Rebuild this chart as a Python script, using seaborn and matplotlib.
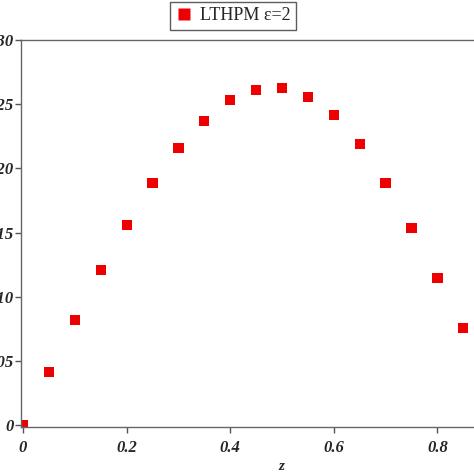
import matplotlib
matplotlib.use("Agg")
import matplotlib.pyplot as plt
import seaborn as sns
import pandas as pd

z = [0.0, 0.05, 0.1, 0.15, 0.2, 0.25, 0.3, 0.35, 0.4, 0.45, 0.5, 0.55, 0.6, 0.65, 0.7, 0.75, 0.8, 0.85]
u = [0.0, 0.0413, 0.0818, 0.1207, 0.1558, 0.1885, 0.2157, 0.2368, 0.2531, 0.2609, 0.2625,
     0.2555, 0.2414, 0.2188, 0.1885, 0.1534, 0.1145, 0.0755]
series_label = "LTHPM \u03b5=2"
x_ticks = [0, 0.2, 0.4, 0.6, 0.8, 1.0]
x_tick_labels = ["0", "0.2", "0.4", "0.6", "0.8", "1"]
y_ticks = [0, 0.05, 0.10, 0.15, 0.20, 0.25, 0.30]
y_tick_labels = ["0", "0.05", "0.10", "0.15", "0.20", "0.25", "0.30"]

df = pd.DataFrame({"z": z, "u": u, "series": series_label})

sns.set_style("white")
plt.rcParams["font.family"] = ["Liberation Serif", "DejaVu Serif"]

fig = plt.figure(figsize=(4.74, 4.74), dpi=100)
# axes run past the right edge of the picture, as in the cropped original
ax = fig.add_axes([21 / 474, 1 - 427 / 474, 520 / 474, 387 / 474])

sns.scatterplot(data=df, x="z", y="u", hue="series", palette=["#ee0000"],
                marker="s", s=55, edgecolor="none", ax=ax, legend=True)

ax.set_xlim(-0.004, 1.0)
ax.set_ylim(-0.0015, 0.30)
ax.set_xticks(x_ticks)
ax.set_xticklabels(x_tick_labels)
ax.set_yticks(y_ticks)
ax.set_yticklabels(y_tick_labels)
for lab in ax.get_xticklabels() + ax.get_yticklabels():
    lab.set_fontweight("bold")
    lab.set_fontstyle("italic")
    lab.set_fontsize(12)
ax.tick_params(axis="both", direction="out", length=4, width=1, color="#555555",
               bottom=True, left=True)
ax.tick_params(axis="y", pad=1.5)
ax.tick_params(axis="x", pad=5)
ax.set_xlabel("z", fontsize=11, fontweight="bold", fontstyle="italic", labelpad=3)
ax.set_ylabel("")
for sp in ax.spines.values():
    sp.set_color("#666666")
    sp.set_linewidth(1.0)

handles, labels = ax.get_legend_handles_labels()
ax.legend(handles, labels, loc="center", bbox_to_anchor=(233 / 474, 1 - 16 / 474),
          bbox_transform=fig.transFigure, frameon=True, fancybox=False,
          edgecolor="#333333", fontsize=13, handletextpad=0.4, borderpad=0.3,
          handlelength=1.0, markerscale=1.2)

fig.savefig("out.png", dpi=100)
